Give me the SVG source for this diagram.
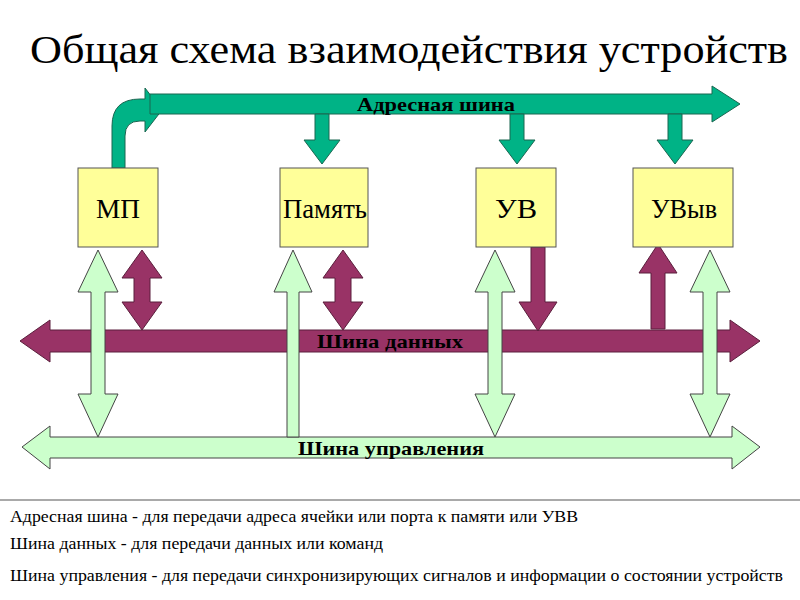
<svg xmlns="http://www.w3.org/2000/svg" width="800" height="600" viewBox="0 0 800 600">
<style>
.t{font-family:"Liberation Serif",serif;fill:#000}
.box{fill:#ffff99;stroke:#555;stroke-width:1}
.addr{fill:#00b386;stroke:#1a6650;stroke-width:1}
.data{fill:#993366;stroke:#5a1f3c;stroke-width:1}
.ctrl{fill:#ccffcc;stroke:#444;stroke-width:1}
.lbl{font-family:"Liberation Serif",serif;font-weight:bold;font-size:19px;text-anchor:middle}
.bl{font-size:27px;text-anchor:middle}
</style>
<rect width="800" height="600" fill="#fff"/>
<text class="t" x="30" y="63" font-size="40" textLength="758" lengthAdjust="spacingAndGlyphs">Общая схема взаимодействия устройств</text>
<g id="connectors">
<path class="addr" d="M112,168 L112,126 Q112,99 140,99 L145,99 L145,88 L162,110 L145,132 L145,121 L140,121 Q125,121 125,136 L125,168 Z"/>
<polygon class="addr" points="150,94 712,94 712,86 740,104 712,122 712,114 150,114"/>
<polygon class="addr" points="315,114 329,114 329,140 340,140 322,164 304,140 315,140"/>
<polygon class="addr" points="510,114 524,114 524,140 535,140 517,164 499,140 510,140"/>
<polygon class="addr" points="668,114 682,114 682,140 693,140 675,164 657,140 668,140"/>
<polygon class="data" points="20,341 50,320 50,330 730,330 730,320 760,341 730,362 730,352 50,352 50,362"/>
<polygon class="data" points="142,250 162,278 150,278 150,302 162,302 142,330 122,302 134,302 134,278 122,278"/>
<polygon class="data" points="343,250 363,278 351,278 351,302 363,302 343,330 323,302 335,302 335,278 323,278"/>
<polygon class="data" points="531,247 545,247 545,302 557,302 538,331 519,302 531,302"/>
<polygon class="data" points="651,329 665,329 665,273 677,273 658,244 639,273 651,273"/>
<polygon class="ctrl" points="22,447 50,426 50,437 732,437 732,426 760,447 732,469 732,458 50,458 50,469"/>
<polygon class="ctrl" points="98,250 118,292 105,292 105,394 118,394 98,437 78,394 91,394 91,292 78,292"/>
<polygon class="ctrl" points="293,250 312,292 299,292 299,437 287,437 287,292 274,292"/>
<polygon class="ctrl" points="495,250 515,292 502,292 502,394 515,394 495,437 475,394 488,394 488,292 475,292"/>
<polygon class="ctrl" points="710,250 730,292 717,292 717,394 730,394 710,437 690,394 703,394 703,292 690,292"/>
<text class="lbl" x="436" y="111" textLength="158" lengthAdjust="spacingAndGlyphs">Адресная шина</text>
<text class="lbl" x="390" y="348" textLength="146" lengthAdjust="spacingAndGlyphs">Шина данных</text>
<text class="lbl" x="391" y="455" textLength="186" lengthAdjust="spacingAndGlyphs">Шина управления</text>
</g>
<g id="mp"><rect class="box" x="78" y="168" width="80" height="79"/><text class="t bl" x="118" y="218" textLength="44" lengthAdjust="spacingAndGlyphs">МП</text></g>
<g id="mem"><rect class="box" x="280" y="168" width="88" height="79"/><text class="t bl" x="325" y="218" textLength="84" lengthAdjust="spacingAndGlyphs">Память</text></g>
<g id="uv"><rect class="box" x="476" y="168" width="80" height="79"/><text class="t bl" x="516" y="218" textLength="42" lengthAdjust="spacingAndGlyphs">УВ</text></g>
<g id="uvyv"><rect class="box" x="633" y="168" width="100" height="79"/><text class="t bl" x="684" y="218" textLength="66" lengthAdjust="spacingAndGlyphs">УВыв</text></g>
<line x1="0" y1="500" x2="800" y2="500" stroke="#555" stroke-width="1"/>
<text class="t" x="10" y="522" font-size="16" textLength="568" lengthAdjust="spacingAndGlyphs">Адресная шина - для передачи адреса ячейки или порта к памяти или УВВ</text>
<text class="t" x="10" y="549" font-size="16" textLength="373" lengthAdjust="spacingAndGlyphs">Шина данных - для передачи данных или команд</text>
<text class="t" x="10" y="581" font-size="16" textLength="773" lengthAdjust="spacingAndGlyphs">Шина управления - для передачи синхронизирующих сигналов и информации о состоянии устройств</text>
</svg>
